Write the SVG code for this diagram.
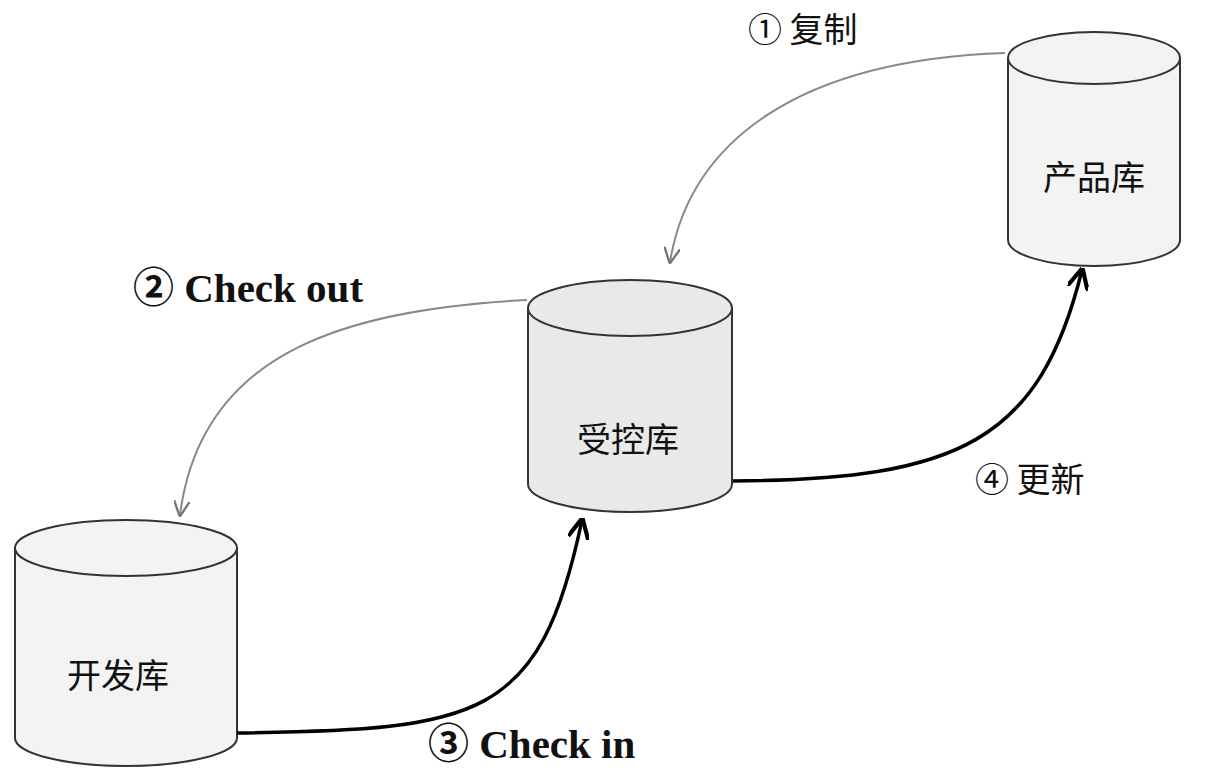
<svg xmlns="http://www.w3.org/2000/svg" width="1227" height="776" viewBox="0 0 1227 776">
<defs>
<style>
.cyl{fill:#f3f3f3;stroke:#333;stroke-width:2}
.cyl2{fill:#e9e9e9;stroke:#333;stroke-width:2}
.lbl{font-family:"Noto Sans CJK SC","Noto Sans",sans-serif;font-size:34px;fill:#111}
.en{font-family:"Liberation Serif","Noto Sans CJK SC",serif;font-size:41px;font-weight:bold;fill:#111}
.thin{fill:none;stroke:#888;stroke-width:2}
.thick{fill:none;stroke:#000;stroke-width:3.5}
</style>
<marker id="ag" viewBox="0 0 10 10" refX="9" refY="5" markerWidth="8" markerHeight="8" orient="auto"><path d="M0,0 L10,5 L0,10" fill="none" stroke="#777" stroke-width="1.5"/></marker>
<marker id="ab" viewBox="0 0 10 10" refX="9" refY="5" markerWidth="6" markerHeight="6" orient="auto"><path d="M0,0 L10,5 L0,10" fill="none" stroke="#000" stroke-width="2"/></marker>
</defs>
<rect width="1227" height="776" fill="#fff"/>
<g id="n-prod">
<path class="cyl" d="M1008,58 L1008,240 A86,26 0 0 0 1180,240 L1180,58"/>
<ellipse class="cyl" cx="1094" cy="58" rx="86" ry="26"/>
<text class="lbl" x="1094" y="190" text-anchor="middle">产品库</text>
</g>
<g id="n-ctrl">
<path class="cyl2" d="M528,308 L528,484 A102,28 0 0 0 732,484 L732,308"/>
<ellipse class="cyl2" cx="630" cy="308" rx="102" ry="28"/>
<text class="lbl" x="628" y="452" text-anchor="middle">受控库</text>
</g>
<g id="n-dev">
<path class="cyl" d="M15,548 L15,738 A111,28 0 0 0 237,738 L237,548"/>
<ellipse class="cyl" cx="126" cy="548" rx="111" ry="28"/>
<text class="lbl" x="118" y="688" text-anchor="middle">开发库</text>
</g>
<g id="connectors">
<path class="thin" marker-end="url(#ag)" d="M1005,53 C800,60 690,140 670,262"/>
<path class="thin" marker-end="url(#ag)" d="M527,300 C330,310 200,360 180,515"/>
<path class="thick" marker-end="url(#ab)" d="M237,733 C480,730 540,720 582,520"/>
<path class="thick" marker-end="url(#ab)" d="M733,481 C960,480 1040,440 1082,270"/>
</g>
<g id="labels">
<text class="lbl" x="748" y="42">① 复制</text>
<text class="en" x="133" y="302">② Check out</text>
<text class="en" x="428" y="758">③ Check in</text>
<text class="lbl" x="975" y="492">④ 更新</text>
</g>
</svg>
